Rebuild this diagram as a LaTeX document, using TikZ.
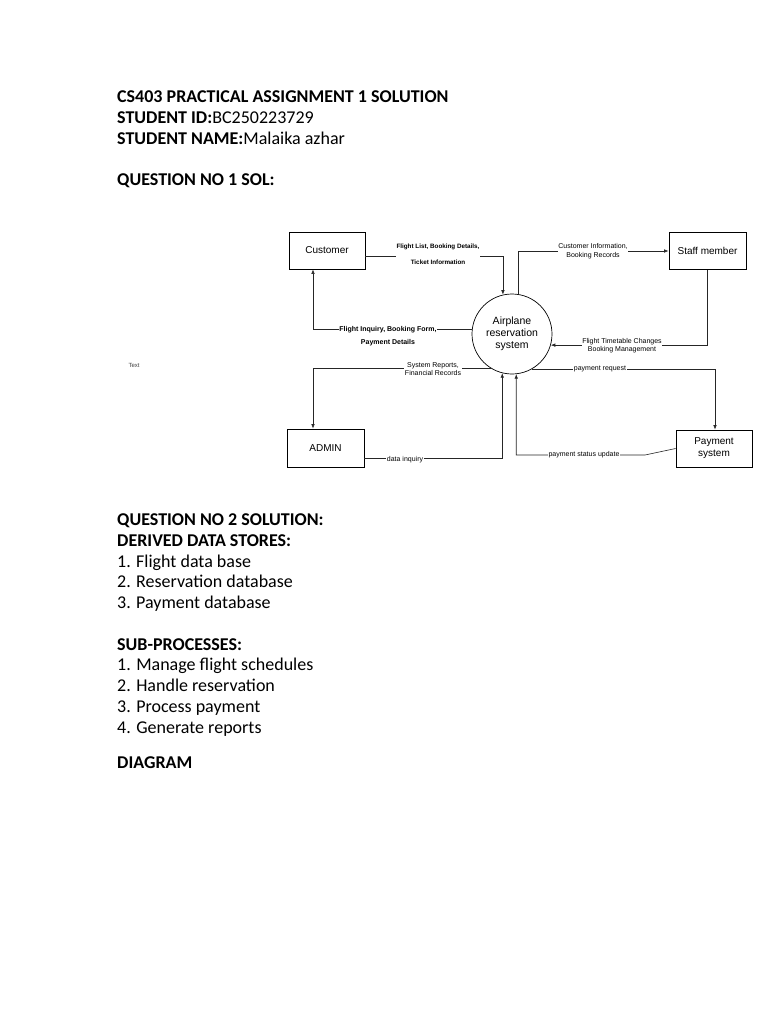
\documentclass[tikz,border=0pt]{standalone}
\usepackage{fontspec}
\setmainfont{Carlito}
\newfontfamily\arialf{Liberation Sans}
\usetikzlibrary{arrows.meta}
\begin{document}
\begin{tikzpicture}[x=1pt,y=-1pt,
  doc/.style={anchor=base west, inner sep=0pt, font=\fontsize{18}{20}\selectfont},
  ent/.style={draw=black, line width=0.7pt, font=\arialf\fontsize{10}{12}\selectfont, inner sep=0pt},
  flow/.style={draw=black!85, line width=0.6pt, -{Latex[length=4.5pt,width=3.5pt]}},
  lab/.style={fill=white, inner sep=0.6pt, align=center, font=\arialf\fontsize{7}{8.5}\selectfont}]
\useasboundingbox (0,0) rectangle (768,1024);
\fill[white] (0,0) rectangle (768,1024);

% document text
\node[doc] (t1) at (117,103) {\textbf{CS403 PRACTICAL ASSIGNMENT 1 SOLUTION}};
\node[doc] (t2) at (117,124) {\textbf{STUDENT ID:}BC250223729};
\node[doc] (t3) at (117,145) {\textbf{STUDENT NAME:}Malaika azhar};
\node[doc] (t4) at (117,186) {\textbf{QUESTION NO 1 SOL:}};
\node[doc] (q2) at (117,525) {\textbf{QUESTION NO 2 SOLUTION:}};
\node[doc] (ds) at (117,546) {\textbf{DERIVED DATA STORES:}};
\node[doc] (d1) at (117,567) {\makebox[19pt][l]{1.}Flight data base};
\node[doc] (d2) at (117,587) {\makebox[19pt][l]{2.}Reservation database};
\node[doc] (d3) at (117,608) {\makebox[19pt][l]{3.}Payment database};
\node[doc] (sp) at (117,650) {\textbf{SUB-PROCESSES:}};
\node[doc] (s1) at (117,670) {1. Manage flight schedules};
\node[doc] (s2) at (117,691) {2. Handle reservation};
\node[doc] (s3) at (117,712) {3. Process payment};
\node[doc] (s4) at (117,733) {4. Generate reports};
\node[doc] (dg) at (117,768) {\textbf{DIAGRAM}};

\node[font=\arialf\fontsize{6}{7}\selectfont, text=black!75, inner sep=0pt] (txt) at (134,365) {Text};

% entities
\node[ent, minimum width=76pt, minimum height=37pt] (cust) at (327,250.5) {Customer};
\node[ent, minimum width=77pt, minimum height=37pt] (staff) at (707.5,251) {Staff member};
\node[ent, minimum width=77pt, minimum height=38pt] (admin) at (325.5,448) {ADMIN};
\node[ent, minimum width=76pt, minimum height=37pt, align=center] (pay) at (714,448.5) {Payment\\system};
\node[ent, circle, minimum size=80pt, align=center, font=\arialf\fontsize{10.5}{12}\selectfont] (c) at (512,334) {Airplane\\reservation\\system};

% flows
\draw[flow] ([yshift=-6pt]cust.east) -| (c.103);
\node[lab, font=\arialf\bfseries\fontsize{6.3}{16}\selectfont] (l1) at (438,254) {Flight List, Booking Details,\\Ticket Information};

\draw[flow] (c.81) |- (staff.west);
\node[lab] (l2) at (593,251) {Customer Information,\\Booking Records};

\draw[flow] (c.174) -| ([xshift=-14pt]cust.south);
\node[lab, font=\arialf\bfseries\fontsize{7}{13}\selectfont] (l3) at (388,336.5) {Flight Inquiry, Booking Form,\\Payment Details};

\draw[flow] (staff.south) |- (c.-16);
\node[lab] (l4) at (622,345.5) {Flight Timetable Changes\\Booking Management};

\draw[flow] (c.238) -| ([xshift=-12.5pt]admin.north);
\node[lab] (l5) at (433,369) {System Reports,\\Financial Records};

\draw[flow] ([yshift=-10pt]admin.east) -| (c.256);
\node[lab] (l6) at (405,460) {data inquiry};

\draw[flow] (c.-61) -| ([xshift=1pt]pay.north);
\node[lab] (l7) at (600,369) {payment request};

\coordinate (bend8) at (645,455);
\draw[flow] (pay.west) -- (bend8) -| (c.-84);
\node[lab] (l8) at (584,455) {payment status update};
\end{tikzpicture}
\end{document}
